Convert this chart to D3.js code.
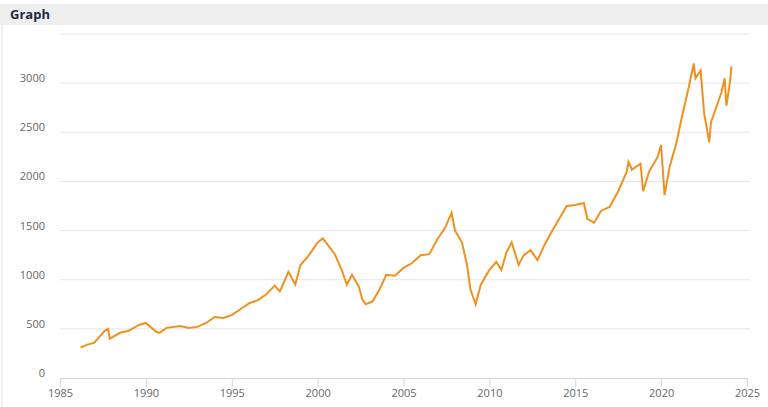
<!DOCTYPE html><html><head><meta charset="utf-8">
<script src="https://cdn.jsdelivr.net/npm/d3@7"></script>
<style>body{margin:0;background:#fff;font-family:"Open Sans",sans-serif}</style></head><body>
<svg id="c" width="768" height="407"></svg>
<script>
const years=[1986.2,1986.6,1987.0,1987.6,1987.8,1987.9,1988.5,1989.0,1989.6,1990.0,1990.6,1990.8,1991.2,1992,1992.5,1993,1993.5,1994,1994.5,1995,1995.5,1996,1996.5,1997,1997.5,1997.8,1998.3,1998.7,1999.0,1999.5,2000.0,2000.3,2000.7,2001.0,2001.4,2001.7,2002,2002.4,2002.6,2002.8,2003.2,2003.6,2004,2004.5,2005,2005.5,2006,2006.5,2007,2007.4,2007.8,2008.0,2008.4,2008.7,2008.9,2009.2,2009.5,2010.0,2010.4,2010.7,2011.0,2011.3,2011.7,2012.0,2012.4,2012.8,2013.2,2013.6,2014.0,2014.5,2015.0,2015.5,2015.7,2016.1,2016.5,2017.0,2017.5,2018.0,2018.1,2018.3,2018.8,2018.95,2019.3,2019.8,2020.0,2020.2,2020.5,2020.9,2021.2,2021.6,2021.9,2022.0,2022.3,2022.5,2022.8,2022.9,2023.2,2023.5,2023.7,2023.8,2024.0,2024.1];
const values=[310,340,360,480,500,400,460,480,540,560,470,460,510,530,510,520,560,620,610,640,700,760,790,850,940,880,1080,950,1150,1250,1380,1420,1330,1260,1100,950,1050,930,800,750,780,900,1050,1040,1120,1170,1250,1260,1420,1520,1680,1500,1380,1150,900,750,950,1100,1180,1100,1280,1380,1150,1250,1300,1200,1350,1480,1600,1750,1760,1780,1620,1580,1700,1740,1900,2100,2200,2120,2180,1900,2100,2250,2370,1860,2150,2400,2650,2950,3200,3050,3130,2700,2400,2600,2750,2900,3050,2770,3000,3170];
const yTicks=[0,500,1000,1500,2000,2500,3000,3500];
const xTicks=[1985,1990,1995,2000,2005,2010,2015,2020,2025];
const svg=d3.select("#c");
svg.append("rect").attr("x",0).attr("y",4).attr("width",768).attr("height",21).attr("fill","#eeeeee");
svg.append("text").attr("x",10).attr("y",19).attr("font-weight","bold").attr("font-size",13).attr("fill","#1f2a44").text("Graph");
svg.append("line").attr("x1",2).attr("x2",2).attr("y1",25).attr("y2",407).attr("stroke","#e0e0e0");
const x=d3.scaleLinear().domain([1985,2025]).range([60,747]);
const y=d3.scaleLinear().domain([0,3500]).range([378,34]);
svg.append("g").selectAll("line").data(yTicks.filter(d=>d>0)).join("line")
 .attr("x1",60).attr("x2",750).attr("y1",d=>y(d)).attr("y2",d=>y(d)).attr("stroke","#e6e6e6");
svg.append("g").selectAll("text").data(yTicks.filter(d=>d<3500)).join("text")
 .attr("x",45).attr("y",d=>y(d)-1).attr("text-anchor","end").attr("font-size",11).attr("fill","#666").text(d=>d);
const xa=svg.append("g").attr("transform","translate(0,378)").call(d3.axisBottom(x).tickValues(xTicks).tickFormat(d3.format("d")).tickSize(9).tickSizeOuter(0));
xa.select(".domain").attr("stroke","#ccd6eb");
xa.selectAll(".tick line").attr("stroke","#ccd6eb");
xa.selectAll("text").attr("font-size",11).attr("fill","#666").attr("font-family","Open Sans").attr("dy","0.6em");
const data=years.map((d,i)=>[d,values[i]]);
svg.append("path").datum(data).attr("fill","none").attr("stroke","#f0911f").attr("stroke-width",2)
 .attr("d",d3.line().x(d=>x(d[0])).y(d=>y(d[1])));
</script></body></html>
